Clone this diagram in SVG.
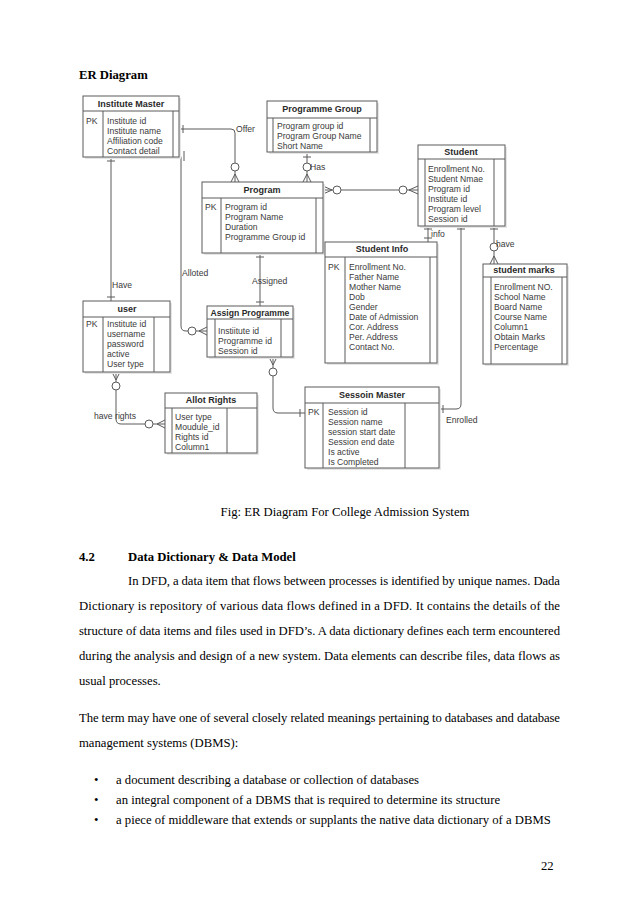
<svg xmlns="http://www.w3.org/2000/svg" width="638" height="903" viewBox="0 0 638 903">
<style>
.bg{fill:#fff}
.box{fill:#fff;stroke:#5a5a5a;stroke-width:1}
.sh{fill:#e6e6e6}
.div{stroke:#5a5a5a;stroke-width:1;fill:none}
.t{font-family:"Liberation Sans",Arial,sans-serif;font-size:8.6px;fill:#3a3a3a}
.h{font-family:"Liberation Sans",Arial,sans-serif;font-size:9px;font-weight:bold;fill:#2a2a2a;text-anchor:middle}
.ln{stroke:#5a5a5a;stroke-width:1;fill:none}
.cir{fill:#fff;stroke:#5a5a5a;stroke-width:1}
.lbl{font-family:"Liberation Sans",Arial,sans-serif;font-size:8.6px;fill:#3a3a3a}
.p{font-family:"Liberation Serif","Times New Roman",serif;font-size:12.7px;fill:#000}
.pb{font-family:"Liberation Serif","Times New Roman",serif;font-size:12.7px;font-weight:bold;fill:#000}
</style>
<rect class="bg" x="0" y="0" width="638" height="903"/>

<text class="pb" x="79" y="79">ER Diagram</text>

<g id="connectors">
  <!-- Offer -->
  <path class="ln" d="M179,129 H231 Q235,129 235,133 V163"/>
  <line class="ln" x1="183" y1="125" x2="183" y2="133"/>
  <circle class="cir" cx="235" cy="167" r="4"/>
  <path class="ln" d="M235,171 V182 M235,174 L231,182 M235,174 L239,182"/>
  <text class="lbl" x="236" y="132">Offer</text>
  <!-- Has -->
  <path class="ln" d="M307,152 V163"/>
  <line class="ln" x1="303" y1="157" x2="311" y2="157"/>
  <circle class="cir" cx="307" cy="167" r="4"/>
  <path class="ln" d="M307,171 V182 M307,174 L303,182 M307,174 L311,182"/>
  <text class="lbl" x="310" y="170">Has</text>
  <!-- Program - Student -->
  <path class="ln" d="M323,190 H333 M332,190 L323,186 M332,190 L323,194"/>
  <circle class="cir" cx="337" cy="190" r="4"/>
  <path class="ln" d="M341,190 H399"/>
  <circle class="cir" cx="403" cy="190" r="4"/>
  <path class="ln" d="M407,190 H418 M409,190 L418,186 M409,190 L418,194"/>
  <!-- Alloted -->
  <path class="ln" d="M179,155 Q181,155 181,158 V326 Q181,331 186,331 H188"/>
  <line class="ln" x1="184" y1="151" x2="184" y2="161"/>
  <circle class="cir" cx="192" cy="331" r="4"/>
  <path class="ln" d="M196,331 H207 M199,331 L207,327 M199,331 L207,335"/>
  <text class="lbl" x="182" y="276">Alloted</text>
  <!-- Have -->
  <path class="ln" d="M111,157 V301"/>
  <line class="ln" x1="107" y1="161" x2="115" y2="161"/>
  <line class="ln" x1="107" y1="297" x2="115" y2="297"/>
  <text class="lbl" x="112" y="288">Have</text>
  <!-- Assigned -->
  <path class="ln" d="M260,253 V306"/>
  <line class="ln" x1="256" y1="257" x2="264" y2="257"/>
  <line class="ln" x1="256" y1="302" x2="264" y2="302"/>
  <text class="lbl" x="252" y="284">Assigned</text>
  <!-- Assign Programme - Session Master -->
  <path class="ln" d="M273,357 V368 M273,365 L269,357 M273,365 L277,357"/>
  <circle class="cir" cx="273" cy="372" r="4"/>
  <path class="ln" d="M273,376 V408 Q273,413 278,413 H305"/>
  <line class="ln" x1="300" y1="409" x2="300" y2="417"/>
  <!-- user - Allot Rights -->
  <path class="ln" d="M116,372 V382 M116,380 L112,372 M116,380 L120,372"/>
  <circle class="cir" cx="116" cy="386" r="4"/>
  <path class="ln" d="M116,390 V419 Q116,424 121,424 H145"/>
  <circle class="cir" cx="149" cy="424" r="4"/>
  <path class="ln" d="M153,424 H165 M157,424 L165,420 M157,424 L165,428"/>
  <text class="lbl" x="94" y="419">have rights</text>
  <!-- info -->
  <path class="ln" d="M428,226 V242"/>
  <line class="ln" x1="424" y1="229" x2="432" y2="229"/>
  <line class="ln" x1="424" y1="238" x2="432" y2="238"/>
  <text class="lbl" x="431" y="237">info</text>
  <!-- Enrolled -->
  <path class="ln" d="M461,226 V404 Q461,409 456,409 H439"/>
  <line class="ln" x1="457" y1="229" x2="465" y2="229"/>
  <line class="ln" x1="443" y1="405" x2="443" y2="413"/>
  <text class="lbl" x="446" y="423">Enrolled</text>
  <!-- have -->
  <path class="ln" d="M494,226 V243"/>
  <line class="ln" x1="490" y1="229" x2="498" y2="229"/>
  <circle class="cir" cx="494" cy="247" r="4"/>
  <path class="ln" d="M494,251 V264 M494,256 L490,264 M494,256 L498,264"/>
  <text class="lbl" x="496" y="247">have</text>
</g>

<g id="institute-master">
  <rect class="sh" x="85" y="98" width="96" height="61"/>
  <rect class="box" x="83" y="96" width="96" height="61"/>
  <path class="div" d="M83,111 H179 M103,111 V157 M173,111 V157"/>
  <text class="h" x="131" y="107">Institute Master</text>
  <text class="t" x="86" y="124">PK</text>
  <text class="t" x="107" y="124">Institute id</text>
  <text class="t" x="107" y="134">Institute name</text>
  <text class="t" x="107" y="144">Affiliation code</text>
  <text class="t" x="107" y="154">Contact detail</text>
</g>

<g id="programme-group">
  <rect class="sh" x="269" y="103" width="110" height="51"/>
  <rect class="box" x="267" y="101" width="110" height="51"/>
  <path class="div" d="M267,118 H377 M273,118 V152 M370,118 V152"/>
  <text class="h" x="322" y="112">Programme Group</text>
  <text class="t" x="277" y="129">Program group id</text>
  <text class="t" x="277" y="139">Program Group Name</text>
  <text class="t" x="277" y="149">Short Name</text>
</g>

<g id="program">
  <rect class="sh" x="204" y="184" width="121" height="71"/>
  <rect class="box" x="202" y="182" width="121" height="71"/>
  <path class="div" d="M202,198 H323 M221,198 V253 M316,198 V253"/>
  <text class="h" x="262" y="193">Program</text>
  <text class="t" x="205" y="210">PK</text>
  <text class="t" x="225" y="210">Program id</text>
  <text class="t" x="225" y="220">Program Name</text>
  <text class="t" x="225" y="230">Duration</text>
  <text class="t" x="225" y="240">Programme Group id</text>
</g>

<g id="student">
  <rect class="sh" x="420" y="147" width="87" height="81"/>
  <rect class="box" x="418" y="145" width="87" height="81"/>
  <path class="div" d="M418,159 H505 M425,159 V226 M494,159 V226"/>
  <text class="h" x="461" y="155">Student</text>
  <text class="t" x="428" y="172">Enrollment No.</text>
  <text class="t" x="428" y="182">Student Nmae</text>
  <text class="t" x="428" y="192">Program id</text>
  <text class="t" x="428" y="202">Institute id</text>
  <text class="t" x="428" y="212">Program level</text>
  <text class="t" x="428" y="222">Session id</text>
</g>

<g id="student-info">
  <rect class="sh" x="327" y="244" width="112" height="121"/>
  <rect class="box" x="325" y="242" width="112" height="121"/>
  <path class="div" d="M325,257 H437 M345,257 V363 M430,257 V363"/>
  <text class="h" x="382" y="252">Student Info</text>
  <text class="t" x="328" y="270">PK</text>
  <text class="t" x="349" y="270">Enrollment No.</text>
  <text class="t" x="349" y="280">Father Name</text>
  <text class="t" x="349" y="290">Mother Name</text>
  <text class="t" x="349" y="300">Dob</text>
  <text class="t" x="349" y="310">Gender</text>
  <text class="t" x="349" y="320">Date of Admission</text>
  <text class="t" x="349" y="330">Cor. Address</text>
  <text class="t" x="349" y="340">Per. Address</text>
  <text class="t" x="349" y="350">Contact No.</text>
</g>

<g id="student-marks">
  <rect class="sh" x="485" y="266" width="84" height="100"/>
  <rect class="box" x="483" y="264" width="84" height="100"/>
  <path class="div" d="M483,277 H567 M491,277 V364 M562,277 V364"/>
  <text class="h" x="524" y="273">student marks</text>
  <text class="t" x="494" y="290">Enrollment NO.</text>
  <text class="t" x="494" y="300">School Name</text>
  <text class="t" x="494" y="310">Board Name</text>
  <text class="t" x="494" y="320">Course Name</text>
  <text class="t" x="494" y="330">Column1</text>
  <text class="t" x="494" y="340">Obtain Marks</text>
  <text class="t" x="494" y="350">Percentage</text>
</g>

<g id="user">
  <rect class="sh" x="85" y="303" width="87" height="71"/>
  <rect class="box" x="83" y="301" width="87" height="71"/>
  <path class="div" d="M83,317 H170 M103,317 V372 M154,317 V372"/>
  <text class="h" x="127" y="312">user</text>
  <text class="t" x="86" y="327">PK</text>
  <text class="t" x="107" y="327">Institute id</text>
  <text class="t" x="107" y="337">username</text>
  <text class="t" x="107" y="347">password</text>
  <text class="t" x="107" y="357">active</text>
  <text class="t" x="107" y="367">User type</text>
</g>

<g id="assign-programme">
  <rect class="sh" x="209" y="308" width="86" height="51"/>
  <rect class="box" x="207" y="306" width="86" height="51"/>
  <path class="div" d="M207,319 H293 M215,319 V357 M281,319 V357"/>
  <text class="h" x="250" y="316" style="font-size:8.6px">Assign Programme</text>
  <text class="t" x="218" y="334">Instiitute id</text>
  <text class="t" x="218" y="344">Programme id</text>
  <text class="t" x="218" y="354">Session id</text>
</g>

<g id="allot-rights">
  <rect class="sh" x="167" y="395" width="92" height="60"/>
  <rect class="box" x="165" y="393" width="92" height="60"/>
  <path class="div" d="M165,408 H257 M172,408 V453 M227,408 V453"/>
  <text class="h" x="211" y="403">Allot Rights</text>
  <text class="t" x="175" y="420">User type</text>
  <text class="t" x="175" y="430">Moudule_id</text>
  <text class="t" x="175" y="440">Rights id</text>
  <text class="t" x="175" y="450">Column1</text>
</g>

<g id="session-master">
  <rect class="sh" x="307" y="389" width="134" height="81"/>
  <rect class="box" x="305" y="387" width="134" height="81"/>
  <path class="div" d="M305,403 H439 M323,403 V468 M405,403 V468"/>
  <text class="h" x="372" y="398">Sessoin Master</text>
  <text class="t" x="308" y="415">PK</text>
  <text class="t" x="328" y="415">Session id</text>
  <text class="t" x="328" y="425">Session name</text>
  <text class="t" x="328" y="435">session start date</text>
  <text class="t" x="328" y="445">Session end date</text>
  <text class="t" x="328" y="455">Is active</text>
  <text class="t" x="328" y="465">Is Completed</text>
</g>

<text class="p" x="345" y="516" text-anchor="middle">Fig: ER Diagram For College Admission System</text>

<text class="pb" x="79" y="561">4.2</text>
<text class="pb" x="128" y="561">Data Dictionary &amp; Data Model</text>

<text class="p" x="128" y="585" textLength="432" lengthAdjust="spacing">In DFD, a data item that flows between processes is identified by unique names. Dada</text>
<text class="p" x="79" y="610" textLength="481" lengthAdjust="spacing">Dictionary is repository of various data flows defined in a DFD. It contains the details of the</text>
<text class="p" x="79" y="635" textLength="481" lengthAdjust="spacing">structure of data items and files used in DFD’s. A data dictionary defines each term encountered</text>
<text class="p" x="79" y="660" textLength="481" lengthAdjust="spacing">during the analysis and design of a new system. Data elements can describe files, data flows as</text>
<text class="p" x="79" y="685">usual processes.</text>

<text class="p" x="79" y="722" textLength="481" lengthAdjust="spacing">The term may have one of several closely related meanings pertaining to databases and database</text>
<text class="p" x="79" y="747">management systems (DBMS):</text>

<text class="p" x="94" y="784">•</text>
<text class="p" x="116" y="784">a document describing a database or collection of databases</text>
<text class="p" x="94" y="804">•</text>
<text class="p" x="116" y="804">an integral component of a DBMS that is required to determine its structure</text>
<text class="p" x="94" y="824">•</text>
<text class="p" x="116" y="824">a piece of middleware that extends or supplants the native data dictionary of a DBMS</text>

<text class="p" x="541" y="870">22</text>
</svg>
